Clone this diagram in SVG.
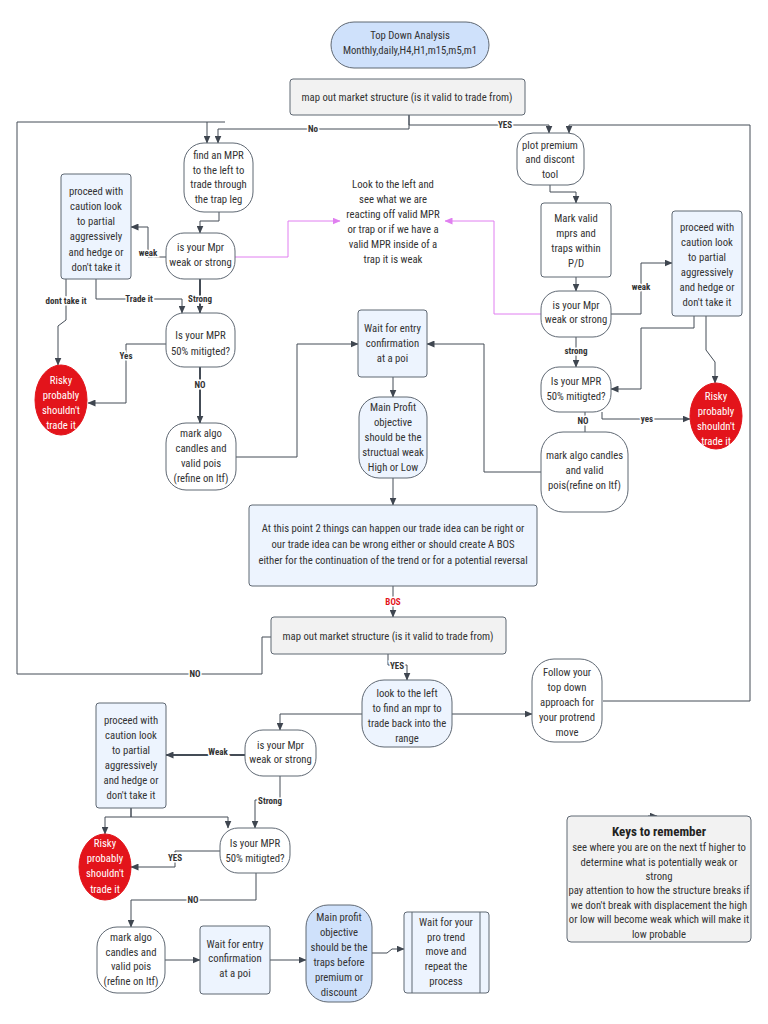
<svg xmlns="http://www.w3.org/2000/svg" width="768" height="1024" viewBox="0 0 768 1024">
<defs>
<marker id="a" markerWidth="8" markerHeight="7" refX="7.5" refY="3.5" orient="auto" markerUnits="userSpaceOnUse"><path d="M0,0 L8,3.5 L0,7 z" fill="#3f4650"/></marker>
<marker id="ap" markerWidth="8" markerHeight="7" refX="7.5" refY="3.5" orient="auto" markerUnits="userSpaceOnUse"><path d="M0,0 L8,3.5 L0,7 z" fill="#e07ff0"/></marker>
<style>
.nd{stroke:#5f6873;stroke-width:1}
.w{fill:#ffffff}.b{fill:#edf4fe}.g{fill:#f2f2f2}.d{fill:#cfe1fb}.r{fill:#e3141b;stroke:#e3141b}
text{font-family:"Liberation Sans Narrow","Roboto Condensed","DejaVu Sans Condensed","Liberation Sans",sans-serif;font-size:10.7px;fill:#333;text-anchor:middle}
text.wt{fill:#ffffff}
.c{fill:none;stroke:#444c56;stroke-width:1;marker-end:url(#a)}
.c2{fill:none;stroke:#444c56;stroke-width:1}
.th{stroke-width:2}
.pk{fill:none;stroke:#e07ff0;stroke-width:1;marker-end:url(#ap)}
text.l{font-weight:bold;font-size:9px;fill:#333;paint-order:stroke;stroke:#ffffff;stroke-width:3px}
text.bos{fill:#e3141b}
text.k{font-weight:bold;font-size:13px;fill:#222}
</style>
</defs>
<g id="connectors">
<path class="c" d="M409 115 V129 H218 V143"/>
<path class="c" d="M409 115 V125 H549 V133"/>
<path class="c" d="M271 637 H262 V674 H17 V122 H207 V143"/>
<path class="c2" d="M207 122 H225"/>
<path class="c" d="M603 701 H750 V125 H569 V133"/>
<path class="c" d="M550 185 V192 H576 V203"/>
<path class="c" d="M576 277 V291"/>
<path class="c" d="M611 314 H641 V263 H672"/>
<path class="pk" d="M541 314 H494 V221 H445"/>
<path class="c" d="M694 316 V328 H641 V389 H611"/>
<path class="c" d="M706 316 V350 L715 362 V383"/>
<path class="c" d="M576 337 V367"/>
<path class="c" d="M602 412 V419 H690"/>
<path class="c2" d="M585 412 V432"/>
<path class="c" d="M541 472 H484 V344 H427"/>
<path class="c" d="M219 212 V221 H200 V233"/>
<path class="pk" d="M235 257 H288 V221 H340"/>
<path class="c" d="M166 257 H148 V227 H131"/>
<path class="c th" d="M200 279 V313"/>
<path class="c" d="M96 279 V299 H182 V313"/>
<path class="c" d="M66 279 V320 L58 326 V365"/>
<path class="c" d="M166 344 H126 V403 H88"/>
<path class="c th" d="M200 367 V423"/>
<path class="c" d="M236 457 H297 V344 H358"/>
<path class="c" d="M393 377 V397"/>
<path class="c" d="M393 478 V505"/>
<path class="c" d="M393 586 V617"/>
<path class="c" d="M388 654 V665 H407 V680"/>
<path class="c" d="M452 714 H532" stroke-width="1.5"/>
<path class="c" d="M362 714 H280 V730"/>
<path class="c th" d="M245 755 H166"/>
<path class="c" d="M280 776 V800 H255 V828"/>
<path class="c" d="M131 808 V817 H105 V834"/>
<path class="c" d="M131 808 V817 H228 V828"/>
<path class="c" d="M220 851 H175 V867 H131"/>
<path class="c" d="M256 873 V900 H131 V927"/>
<path class="c" d="M165 960 H200"/>
<path class="c" d="M270 960 H306"/>
<path class="c" d="M372 953 H387 L392 949 H404"/>
<path class="c" d="M648 816 H657"/>
<text class="l" x="313" y="132">No</text>
<text class="l" x="505" y="128">YES</text>
<text class="l" x="195" y="677">NO</text>
<text class="l" x="641" y="290">weak</text>
<text class="l" x="576" y="354">strong</text>
<text class="l" x="647" y="422">yes</text>
<text class="l" x="583" y="424">NO</text>
<text class="l" x="148" y="256">weak</text>
<text class="l" x="200" y="302">Strong</text>
<text class="l" x="139" y="302">Trade it</text>
<text class="l" x="66" y="304">dont take it</text>
<text class="l" x="126" y="359">Yes</text>
<text class="l" x="200" y="388">NO</text>
<text class="l bos" x="393" y="605">BOS</text>
<text class="l" x="397" y="669">YES</text>
<text class="l" x="218" y="755">Weak</text>
<text class="l" x="270" y="804">Strong</text>
<text class="l" x="175" y="861">YES</text>
<text class="l" x="193" y="903">NO</text>
</g>
<g id="n-top"><rect class="nd d" x="331" y="22" width="158" height="46" rx="23"/><text x="410" y="39">Top Down Analysis</text><text x="410" y="54">Monthly,daily,H4,H1,m15,m5,m1</text></g>
<g id="n-map1"><rect class="nd g" x="290" y="79" width="235" height="36" rx="3"/><text x="407" y="101">map out market structure (is it valid to trade from)</text></g>
<g id="n-find"><rect class="nd w" x="184" y="143" width="69" height="69" rx="20"/><text x="218.5" y="159">find an MPR</text><text x="218.5" y="174">to the left to</text><text x="218.5" y="188">trade through</text><text x="218.5" y="203">the trap leg</text></g>
<g id="n-plot"><rect class="nd w" x="517" y="133" width="67" height="52" rx="16"/><text x="550" y="149">plot premium</text><text x="550" y="163">and discont</text><text x="550" y="178">tool</text></g>
<g id="n-markvalid"><rect class="nd w" x="541" y="203" width="70" height="74" rx="3"/><text x="576" y="222">Mark valid</text><text x="576" y="237">mprs and</text><text x="576" y="252">traps within</text><text x="576" y="267">P/D</text></g>
<g id="n-mprR"><rect class="nd w" x="541" y="291" width="70" height="46" rx="18"/><text x="576" y="309">is your Mpr</text><text x="576" y="323">weak or strong</text></g>
<g id="n-procR"><rect class="nd b" x="672" y="211" width="70" height="105" rx="3"/><text x="707" y="231">proceed with</text><text x="707" y="246">caution look</text><text x="707" y="261">to partial</text><text x="707" y="276">aggressively</text><text x="707" y="291">and hedge or</text><text x="707" y="306">don't take it</text></g>
<g id="n-look"><text x="393" y="188">Look to the left and</text><text x="393" y="203">see what we are</text><text x="393" y="218">reacting off valid MPR</text><text x="393" y="233">or trap or if we have a</text><text x="393" y="248">valid MPR inside of a</text><text x="393" y="263">trap it is weak</text></g>
<g id="n-mprL"><rect class="nd w" x="166" y="233" width="69" height="46" rx="18"/><text x="200.5" y="251">is your Mpr</text><text x="200.5" y="266">weak or strong</text></g>
<g id="n-procL"><rect class="nd b" x="61" y="174" width="70" height="105" rx="3"/><text x="96" y="195">proceed with</text><text x="96" y="210">caution look</text><text x="96" y="225">to partial</text><text x="96" y="240">aggressively</text><text x="96" y="256">and hedge or</text><text x="96" y="271">don't take it</text></g>
<g id="n-mitL"><rect class="nd w" x="166" y="313" width="69" height="54" rx="18"/><text x="200.5" y="339">Is your MPR</text><text x="200.5" y="355">50% mitigted?</text></g>
<g id="n-riskyL"><ellipse class="r" cx="61" cy="400" rx="26" ry="35"/><text class="wt" x="61" y="384">Risky</text><text class="wt" x="61" y="399">probably</text><text class="wt" x="61" y="414">shouldn't</text><text class="wt" x="61" y="429">trade it</text></g>
<g id="n-algoL"><rect class="nd w" x="166" y="423" width="70" height="67" rx="20"/><text x="201" y="437">mark algo</text><text x="201" y="452">candles and</text><text x="201" y="467">valid pois</text><text x="201" y="482">(refine on ltf)</text></g>
<g id="n-waitC"><rect class="nd b" x="358" y="310" width="69" height="67" rx="3"/><text x="392.5" y="332">Wait for entry</text><text x="392.5" y="347">confirmation</text><text x="392.5" y="362">at a poi</text></g>
<g id="n-mainC"><rect class="nd b" x="359" y="397" width="68" height="81" rx="20"/><text x="393" y="411">Main Profit</text><text x="393" y="426">objective</text><text x="393" y="441">should be the</text><text x="393" y="456">structual weak</text><text x="393" y="471">High or Low</text></g>
<g id="n-mitR"><rect class="nd w" x="541" y="367" width="70" height="45" rx="18"/><text x="576" y="385">Is your MPR</text><text x="576" y="400">50% mitigted?</text></g>
<g id="n-riskyR"><ellipse class="r" cx="716" cy="416" rx="26" ry="33"/><text class="wt" x="716" y="400">Risky</text><text class="wt" x="716" y="415">probably</text><text class="wt" x="716" y="430">shouldn't</text><text class="wt" x="716" y="445">trade it</text></g>
<g id="n-algoR"><rect class="nd w" x="541" y="432" width="87" height="80" rx="22"/><text x="584.5" y="459">mark algo candles</text><text x="584.5" y="474">and valid</text><text x="584.5" y="489">pois(refine on ltf)</text></g>
<g id="n-big"><rect class="nd b" x="249" y="505" width="288" height="81" rx="3"/><text x="393" y="532">At this point 2 things can happen our trade idea can be right or</text><text x="393" y="548">our trade idea can be wrong either or should create A BOS</text><text x="393" y="564">either for the continuation of the trend or for a potential reversal</text></g>
<g id="n-map2"><rect class="nd g" x="271" y="617" width="235" height="37" rx="3"/><text x="388" y="640">map out market structure (is it valid to trade from)</text></g>
<g id="n-lookB"><rect class="nd b" x="362" y="680" width="90" height="67" rx="22"/><text x="407" y="697">look to the left</text><text x="407" y="712">to find an mpr to</text><text x="407" y="727">trade back into the</text><text x="407" y="742">range</text></g>
<g id="n-follow"><rect class="nd w" x="532" y="659" width="70" height="83" rx="22"/><text x="567" y="676">Follow your</text><text x="567" y="691">top down</text><text x="567" y="706">approach for</text><text x="567" y="721">your protrend</text><text x="567" y="736">move</text></g>
<g id="n-mprB"><rect class="nd w" x="245" y="730" width="71" height="46" rx="18"/><text x="280.5" y="749">is your Mpr</text><text x="280.5" y="763">weak or strong</text></g>
<g id="n-procB"><rect class="nd b" x="96" y="703" width="70" height="105" rx="3"/><text x="131" y="724">proceed with</text><text x="131" y="739">caution look</text><text x="131" y="754">to partial</text><text x="131" y="769">aggressively</text><text x="131" y="784">and hedge or</text><text x="131" y="799">don't take it</text></g>
<g id="n-mitB"><rect class="nd w" x="220" y="828" width="70" height="45" rx="18"/><text x="255" y="847">Is your MPR</text><text x="255" y="862">50% mitigted?</text></g>
<g id="n-riskyB"><ellipse class="r" cx="105" cy="867" rx="26" ry="33"/><text class="wt" x="105" y="847">Risky</text><text class="wt" x="105" y="862">probably</text><text class="wt" x="105" y="877">shouldn't</text><text class="wt" x="105" y="893">trade it</text></g>
<g id="n-algoB"><rect class="nd w" x="97" y="927" width="68" height="66" rx="20"/><text x="131" y="941">mark algo</text><text x="131" y="956">candles and</text><text x="131" y="970">valid pois</text><text x="131" y="985">(refine on ltf)</text></g>
<g id="n-waitB"><rect class="nd b" x="200" y="926" width="70" height="68" rx="3"/><text x="235" y="948">Wait for entry</text><text x="235" y="962">confirmation</text><text x="235" y="977">at a poi</text></g>
<g id="n-mainB"><rect class="nd d" x="306" y="905" width="66" height="97" rx="22"/><text x="339" y="921">Main profit</text><text x="339" y="936">objective</text><text x="339" y="951">should be the</text><text x="339" y="966">traps before</text><text x="339" y="981">premium or</text><text x="339" y="996">discount</text></g>
<g id="n-waitPro"><rect class="nd b" x="404" y="912" width="85" height="81" rx="3"/><path class="nd" d="M412 912 V993 M480 912 V993"/><text x="446" y="926">Wait for your</text><text x="446" y="941">pro trend</text><text x="446" y="955">move and</text><text x="446" y="970">repeat the</text><text x="446" y="985">process</text></g>
<g id="n-keys"><rect class="nd g" x="567" y="816" width="184" height="126" rx="4"/><text class="k" x="659" y="836">Keys to remember</text><text x="659" y="851">see where you are on the next tf higher to</text><text x="659" y="866">determine what is potentially weak or</text><text x="659" y="880">strong</text><text x="659" y="894">pay attention to how the structure breaks if</text><text x="659" y="909">we don't break with displacement the high</text><text x="659" y="923">or low will become weak which will make it</text><text x="659" y="938">low probable</text></g>
</svg>
